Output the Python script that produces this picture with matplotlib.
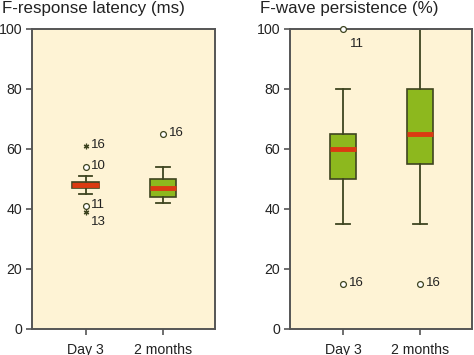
import matplotlib
matplotlib.use("Agg")
import matplotlib.pyplot as plt

plt.rcParams['font.family'] = ['Liberation Sans', 'DejaVu Sans']

categories = ["Day 3", "2 months"]

# Panel 1: F-response latency (ms)
lat_q1 = [47, 44]
lat_med = [48, 47]
lat_q3 = [49, 50]
lat_lo = [45, 42]
lat_hi = [51, 54]
lat_out_vals = [[61, 54, 41, 39], [65]]
lat_out_labels = [["16", "10", "11", "13"], ["16"]]
lat_out_kind = [["star", "circle", "circle", "star"], ["circle"]]
lat_fill = ["#CC3A1C", "#8DB81E"]

# Panel 2: F-wave persistence (%)
per_q1 = [50, 55]
per_med = [60, 65]
per_q3 = [65, 80]
per_lo = [35, 35]
per_hi = [80, 100]
per_out_vals = [[100, 15], [15]]
per_out_labels = [["11", "16"], ["16"]]
per_out_kind = [["circle", "circle"], ["circle"]]
per_fill = ["#8DB81E", "#8DB81E"]

titles = ["F-response latency (ms)", "F-wave persistence (%)"]
yticks = [0, 20, 40, 60, 80, 100]

BG = "#FEF3D5"
EDGE = "#3E4420"
MED = "#DB3A12"

fig = plt.figure(figsize=(4.74, 3.55), dpi=100)
ax1 = fig.add_axes([32/474, 26/355, 183/474, 300/355])
ax2 = fig.add_axes([290/474, 26/355, 182/474, 300/355])


def draw(ax, q1, med, q3, lo, hi, outv, outl, outk, fills, title, title_x):
    stats = []
    for i in range(len(categories)):
        stats.append(dict(med=med[i], q1=q1[i], q3=q3[i], whislo=lo[i],
                          whishi=hi[i], fliers=[], label=categories[i]))
    bp = ax.bxp(stats, positions=[1, 2], widths=0.34, patch_artist=True,
                showfliers=False, capwidths=0.18,
                boxprops=dict(edgecolor=EDGE, linewidth=1.2),
                whiskerprops=dict(color=EDGE, linewidth=1.3),
                capprops=dict(color=EDGE, linewidth=1.3),
                medianprops=dict(color=MED, linewidth=3.5, solid_capstyle='butt'))
    for patch, c in zip(bp['boxes'], fills):
        patch.set_facecolor(c)
    for i in range(len(categories)):
        pos = i + 1
        for v, lab, k in zip(outv[i], outl[i], outk[i]):
            if k == "circle":
                ax.plot(pos, v, marker='o', ms=4.2, mfc='white', mec=EDGE,
                        mew=0.9, clip_on=False, zorder=5)
            else:
                ax.plot(pos, v, marker=(6, 2, 0), ms=4.0, color=EDGE,
                        mew=0.9, clip_on=False, zorder=5)
            if v >= 100:
                off = (5, -11)
            elif lab == "13":
                off = (4, -7)
            else:
                off = (4, 1)
            ax.annotate(lab, (pos, v), xytext=off, textcoords='offset points',
                        fontsize=9.5, ha='left', va='center', color='#222222')
    ax.set_facecolor(BG)
    ax.set_ylim(0, 100)
    ax.set_xlim(0.31, 2.67)
    ax.set_yticks(yticks)
    ax.set_xticks([1, 2])
    ax.set_xticklabels(categories)
    ax.tick_params(axis='both', labelsize=10.2, length=4, width=1.2,
                   color='#555555', labelcolor='#222222')
    ax.tick_params(axis='y', pad=3)
    ax.tick_params(axis='x', pad=6)
    for s in ax.spines.values():
        s.set_color('#555555')
        s.set_linewidth(1.4)
    fig.text(title_x / 474, 1 - 9 / 355, title, fontsize=12.2, ha='left',
             va='center', color='#222222')


draw(ax1, lat_q1, lat_med, lat_q3, lat_lo, lat_hi, lat_out_vals, lat_out_labels,
     lat_out_kind, lat_fill, titles[0], 2)
draw(ax2, per_q1, per_med, per_q3, per_lo, per_hi, per_out_vals, per_out_labels,
     per_out_kind, per_fill, titles[1], 260)

fig.savefig("out.png", dpi=100, facecolor='white')
